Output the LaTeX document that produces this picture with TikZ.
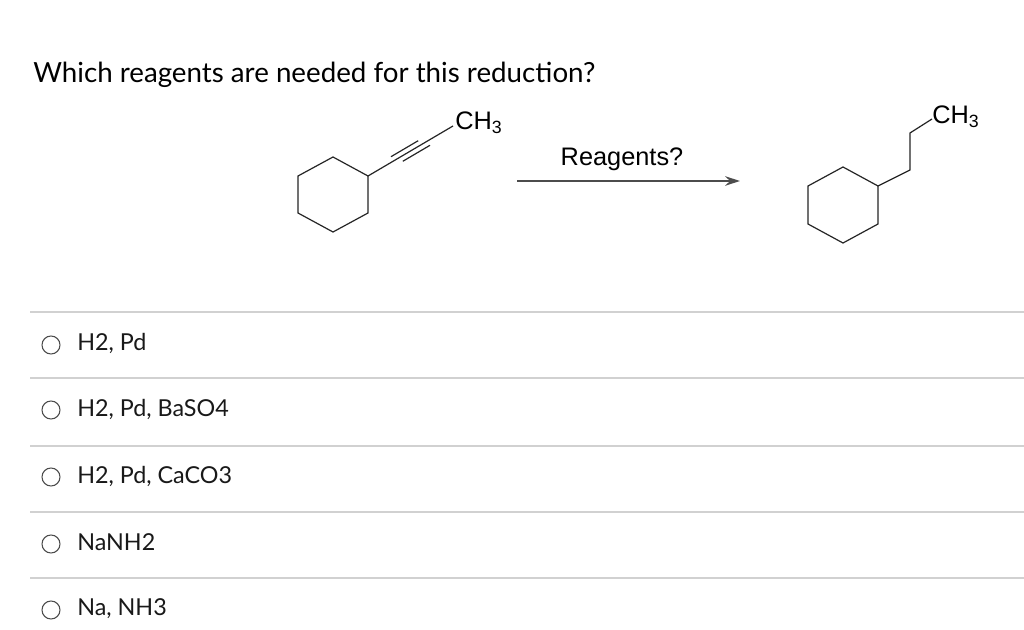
\documentclass[tikz,border=0pt]{standalone}
\usepackage{fontspec}
\setmainfont{Lato}
\newfontfamily\chemfont{Liberation Sans}
\usetikzlibrary{arrows.meta,calc}
\begin{document}
\begin{tikzpicture}[x=0.75pt,y=-0.75pt,
  bond/.style={line width=0.9pt,black!85},
  sep/.style={draw=black!18,line width=0.8pt},
  radio/.style={circle,draw=black!70,line width=0.8pt,minimum size=13.5pt,inner sep=0pt},
  opt/.style={anchor=west,font=\fontsize{17.5}{20}\selectfont,text=black!90},
  chem/.style={font=\chemfont\fontsize{19}{22}\selectfont,inner sep=0pt}]
\useasboundingbox[fill=white] (0,0) rectangle (1024,630);
\node[anchor=west,font=\fontsize{20.8}{24}\selectfont,inner sep=0pt] (title) at (33,75) {Which reagents are needed for this reduction?};
% left molecule
\draw[bond] (333,157) -- (368,176) -- (368,213) -- (333,232) -- (298,213) -- (298,176) -- cycle;
\coordinate (a1) at (368,176);
\coordinate (a2) at (453,126);
\draw[bond] (a1) -- (a2);
\draw[bond] ($(a1)!0.3!(a2)+(-2.5,-4.3)$) -- ($(a1)!0.62!(a2)+(-2.5,-4.3)$);
\draw[bond] ($(a1)!0.38!(a2)+(2.5,4.3)$) -- ($(a1)!0.7!(a2)+(2.5,4.3)$);
\node[chem,anchor=west] (ch3a) at (455,123) {CH\textsubscript{3}};
% arrow
\coordinate (p) at (517,181); \coordinate (q) at (740,181);
\draw[line width=2pt,black!70,-{Stealth[length=11pt,width=7pt]}] (p) -- (q);
\node[chem] (reag) at (622,159) {Reagents?};
% right molecule
\draw[bond] (843,167) -- (878,186) -- (878,224) -- (843,243) -- (808,224) -- (808,186) -- cycle;
\draw[bond] (878,186) -- (910,170) -- (910,133) -- (932,119);
\node[chem,anchor=west] (ch3b) at (932,117) {CH\textsubscript{3}};
% options
\foreach \y in {312,378,446,512,578} \draw[sep] (30,\y) -- (1024,\y);
\node[radio] (r1) at (51,345) {}; \node[opt,inner sep=0pt] (t1) at (77,343) {H2, Pd};
\node[radio] (r2) at (51,410) {}; \node[opt,inner sep=0pt] (t2) at (77,409) {H2, Pd, BaSO4};
\node[radio] (r3) at (51,477) {}; \node[opt,inner sep=0pt] (t3) at (77,476) {H2, Pd, CaCO3};
\node[radio] (r4) at (51,544) {}; \node[opt,inner sep=0pt] (t4) at (77,542) {NaNH2};
\node[radio] (r5) at (51,610) {}; \node[opt,inner sep=0pt] (t5) at (77,609) {Na, NH3};
\end{tikzpicture}
\end{document}
